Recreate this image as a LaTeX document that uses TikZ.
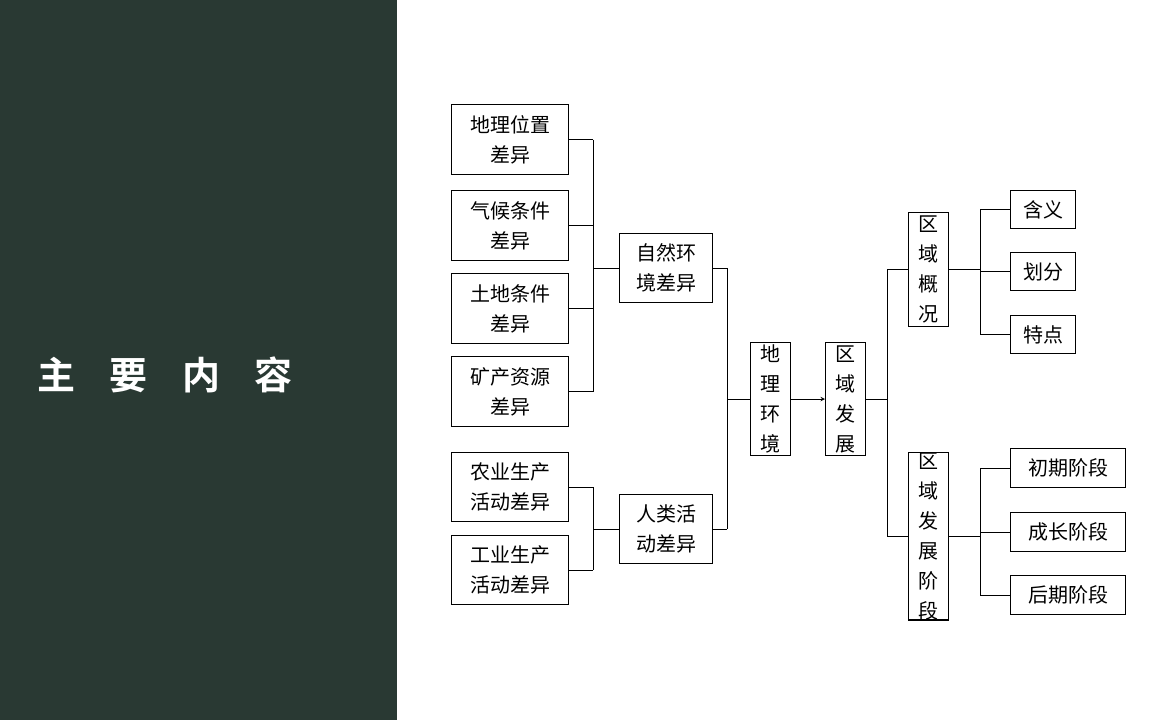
\documentclass[tikz,border=0pt]{standalone}
\usepackage{fontspec}
\setmainfont{Noto Sans CJK SC}
\newfontfamily\cjkb{Noto Sans CJK SC Bold}
\begin{document}
\begin{tikzpicture}[x=1pt,y=-1pt,
  bx/.style={draw,line width=1.2pt,font=\fontsize{20}{30}\selectfont,align=center,inner sep=0pt,anchor=north west},
  ln/.style={line width=1pt}]
\useasboundingbox (0,0) rectangle (1152,720);
\fill[white] (0,0) rectangle (1152,720);
\fill[fill={rgb,255:red,41;green,57;blue,51}] (0,0) rectangle (397,720);
\node[text=white,font=\cjkb\fontsize{38}{40}\selectfont] (title) at (165,375) {主\hspace{0.9em}要\hspace{0.9em}内\hspace{0.9em}容};
% left column
\node[bx,minimum width=117,minimum height=70] (a1) at (451,104) {地理位置\\差异};
\node[bx,minimum width=117,minimum height=70] (a2) at (451,190) {气候条件\\差异};
\node[bx,minimum width=117,minimum height=70] (a3) at (451,273) {土地条件\\差异};
\node[bx,minimum width=117,minimum height=70] (a4) at (451,356) {矿产资源\\差异};
\node[bx,minimum width=117,minimum height=69] (a5) at (451,452) {农业生产\\活动差异};
\node[bx,minimum width=117,minimum height=69] (a6) at (451,535) {工业生产\\活动差异};
\node[bx,minimum width=93,minimum height=69] (b1) at (619,233) {自然环\\境差异};
\node[bx,minimum width=93,minimum height=69] (b2) at (619,494) {人类活\\动差异};
\node[bx,minimum width=40,minimum height=113] (c) at (750,342) {地\\理\\环\\境};
\node[bx,minimum width=40,minimum height=113] (d) at (825,342) {区\\域\\发\\展};
\node[bx,minimum width=40,minimum height=114] (e1) at (908,212) {区\\域\\概\\况};
\node[bx,minimum width=40,minimum height=160,font=\fontsize{20}{30}\selectfont] (e2) at (908,452) {区\\域\\发\\展\\阶\\段};
\node[bx,minimum width=65,minimum height=38] (f1) at (1010,190) {含义};
\node[bx,minimum width=65,minimum height=38] (f2) at (1010,252) {划分};
\node[bx,minimum width=65,minimum height=38] (f3) at (1010,315) {特点};
\node[bx,minimum width=115,minimum height=39] (g1) at (1010,448) {初期阶段};
\node[bx,minimum width=115,minimum height=39] (g2) at (1010,512) {成长阶段};
\node[bx,minimum width=115,minimum height=39] (g3) at (1010,575) {后期阶段};
% brackets
\foreach \n in {a1,a2,a3,a4} \draw[ln] (\n.east) -- (\n.east -| 593,0);
\draw[ln] (a1.east -| 593,0) -- (a4.east -| 593,0);
\draw[ln] (b1.west -| 593,0) -- (b1.west);
\foreach \n in {a5,a6} \draw[ln] (\n.east) -- (\n.east -| 593,0);
\draw[ln] (a5.east -| 593,0) -- (a6.east -| 593,0);
\draw[ln] (b2.west -| 593,0) -- (b2.west);
\foreach \n in {b1,b2} \draw[ln] (\n.east) -- (\n.east -| 727,0);
\draw[ln] (b1.east -| 727,0) -- (b2.east -| 727,0);
\draw[ln] (c.west -| 727,0) -- (c.west);
\draw[ln,-stealth] (c) -- (d);
\foreach \n in {e1,e2} \draw[ln] (\n.west) -- (\n.west -| 887,0);
\draw[ln] (e1.west -| 887,0) -- (e2.west -| 887,0);
\draw[ln] (d.east) -- (d.east -| 887,0);
\foreach \n in {f1,f2,f3} \draw[ln] (\n.west) -- (\n.west -| 980,0);
\draw[ln] (f1.west -| 980,0) -- (f3.west -| 980,0);
\draw[ln] (e1.east) -- (e1.east -| 980,0);
\foreach \n in {g1,g2,g3} \draw[ln] (\n.west) -- (\n.west -| 980,0);
\draw[ln] (g1.west -| 980,0) -- (g3.west -| 980,0);
\draw[ln] (e2.east) -- (e2.east -| 980,0);
\end{tikzpicture}
\end{document}
